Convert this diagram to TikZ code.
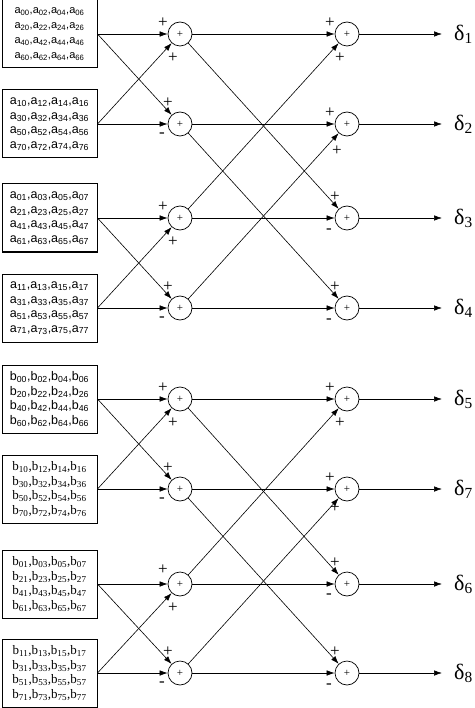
\documentclass[tikz,border=0pt]{standalone}
\usepackage{fontspec}
\setmainfont{Liberation Serif}
\newfontfamily\arialfont{Liberation Sans}
\usetikzlibrary{arrows.meta}
\newcommand{\ix}[1]{\textsubscript{#1}}
\newcommand{\elrow}[5]{#1\ix{#2},#1\ix{#3},#1\ix{#4},#1\ix{#5}}

\begin{document}
\begin{tikzpicture}[x=1pt,y=-1pt,
	inbox/.style={draw=black,line width=1pt,minimum width=95pt,minimum height=68pt,inner sep=0pt,align=center},
	sansbox/.style={inbox,font=\arialfont\fontsize{12.5}{14.5}\selectfont},
	serifbox/.style={inbox,font=\fontsize{13}{14.5}\selectfont},
	adder/.style={shape=circle,draw=black,line width=0.7pt,minimum size=24pt,inner sep=0pt,font=\fontsize{11}{11}\selectfont},
	sgn/.style={inner sep=0pt,font=\fontsize{17}{17}\selectfont},
	arr/.style={-{Latex[length=8pt,width=5.5pt]},line width=0.6pt},
	outlbl/.style={anchor=west,inner sep=0pt,font=\fontsize{22}{22}\selectfont}]

	\useasboundingbox (0,0) rectangle (474,708);

	% input blocks
	\node[sansbox,font=\arialfont\fontsize{11}{15}\selectfont] (b1) at (49.5,34) {\elrow{a}{00}{02}{04}{06}\\\elrow{a}{20}{22}{24}{26}\\\elrow{a}{40}{42}{44}{46}\\\elrow{a}{60}{62}{64}{66}};
	\node[sansbox] (b2) at (49.5,124) {\elrow{a}{10}{12}{14}{16}\\\elrow{a}{30}{32}{34}{36}\\\elrow{a}{50}{52}{54}{56}\\\elrow{a}{70}{72}{74}{76}};
	\node[sansbox] (b3) at (49.5,218) {\elrow{a}{01}{03}{05}{07}\\\elrow{a}{21}{23}{25}{27}\\\elrow{a}{41}{43}{45}{47}\\\elrow{a}{61}{63}{65}{67}};
	\node[sansbox] (b4) at (49.5,308) {\elrow{a}{11}{13}{15}{17}\\\elrow{a}{31}{33}{35}{37}\\\elrow{a}{51}{53}{55}{57}\\\elrow{a}{71}{73}{75}{77}};
	\node[sansbox] (b5) at (49.5,399) {\elrow{b}{00}{02}{04}{06}\\\elrow{b}{20}{22}{24}{26}\\\elrow{b}{40}{42}{44}{46}\\\elrow{b}{60}{62}{64}{66}};
	\node[serifbox] (b6) at (49.5,489) {\elrow{b}{10}{12}{14}{16}\\\elrow{b}{30}{32}{34}{36}\\\elrow{b}{50}{52}{54}{56}\\\elrow{b}{70}{72}{74}{76}};
	\node[serifbox] (b7) at (49.5,584) {\elrow{b}{01}{03}{05}{07}\\\elrow{b}{21}{23}{25}{27}\\\elrow{b}{41}{43}{45}{47}\\\elrow{b}{61}{63}{65}{67}};
	\node[serifbox] (b8) at (49.5,673) {\elrow{b}{11}{13}{15}{17}\\\elrow{b}{31}{33}{35}{37}\\\elrow{b}{51}{53}{55}{57}\\\elrow{b}{71}{73}{75}{77}};

	% first stage adders
	\node[adder] (c11) at (180,34) {+};
	\node[adder] (c12) at (180,124) {+};
	\node[adder] (c13) at (180,218) {+};
	\node[adder] (c14) at (180,308) {+};
	\node[adder] (c15) at (180,399) {+};
	\node[adder] (c16) at (180,489) {+};
	\node[adder] (c17) at (180,584) {+};
	\node[adder] (c18) at (180,673) {+};

	% second stage adders
	\node[adder] (c21) at (347,34) {+};
	\node[adder] (c22) at (347,124) {+};
	\node[adder] (c23) at (347,218) {+};
	\node[adder] (c24) at (347,308) {+};
	\node[adder] (c25) at (347,399) {+};
	\node[adder] (c26) at (347,489) {+};
	\node[adder] (c27) at (347,584) {+};
	\node[adder] (c28) at (347,673) {+};

	% signs
	\node[sgn] (s11a) at (163,23) {+};
	\node[sgn] (s11b) at (173,58) {+};
	\node[sgn] (s12a) at (168,103) {+};
	\node[sgn] (s12b) at (162,135) {-};
	\node[sgn] (s13a) at (163,207) {+};
	\node[sgn] (s13b) at (173,242) {+};
	\node[sgn] (s14a) at (168,287) {+};
	\node[sgn] (s14b) at (162,319) {-};
	\node[sgn] (s15a) at (163,388) {+};
	\node[sgn] (s15b) at (173,423) {+};
	\node[sgn] (s16a) at (168,468) {+};
	\node[sgn] (s16b) at (162,500) {-};
	\node[sgn] (s17a) at (163,570) {+};
	\node[sgn] (s17b) at (173,608) {+};
	\node[sgn] (s18a) at (168,652) {+};
	\node[sgn] (s18b) at (162,684) {-};

	\node[sgn] (s21a) at (330,23) {+};
	\node[sgn] (s21b) at (340,58) {+};
	\node[sgn] (s22a) at (330,113) {+};
	\node[sgn] (s22b) at (337,151) {+};
	\node[sgn] (s23a) at (335,197) {+};
	\node[sgn] (s23b) at (329,231) {-};
	\node[sgn] (s24a) at (335,287) {+};
	\node[sgn] (s24b) at (329,321) {-};
	\node[sgn] (s25a) at (330,388) {+};
	\node[sgn] (s25b) at (340,423) {+};
	\node[sgn] (s26a) at (330,478) {+};
	\node[sgn] (s26b) at (335,508) {+};
	\node[sgn] (s27a) at (335,563) {+};
	\node[sgn] (s27b) at (329,596) {-};
	\node[sgn] (s28a) at (335,652) {+};
	\node[sgn] (s28b) at (329,686) {-};

	% outputs
	\coordinate (o1) at (442,34);
	\coordinate (o2) at (442,124);
	\coordinate (o3) at (442,218);
	\coordinate (o4) at (442,308);
	\coordinate (o5) at (442,399);
	\coordinate (o6) at (442,489);
	\coordinate (o7) at (442,584);
	\coordinate (o8) at (442,673);
	\node[outlbl] (d1) at (454,34) {δ\ix{1}};
	\node[outlbl] (d2) at (454,124) {δ\ix{2}};
	\node[outlbl] (d3) at (454,218) {δ\ix{3}};
	\node[outlbl] (d4) at (454,308) {δ\ix{4}};
	\node[outlbl] (d5) at (454,399) {δ\ix{5}};
	\node[outlbl] (d6) at (454,489) {δ\ix{7}};
	\node[outlbl] (d7) at (454,584) {δ\ix{6}};
	\node[outlbl] (d8) at (454,673) {δ\ix{8}};

	% blocks to first stage
	\path (b1.east) edge[arr] (c11);
	\path (b1.east) edge[arr] (c12);
	\path (b2.east) edge[arr] (c12);
	\path (b2.east) edge[arr] (c11);
	\path (b3.east) edge[arr] (c13);
	\path (b3.east) edge[arr] (c14);
	\path (b4.east) edge[arr] (c14);
	\path (b4.east) edge[arr] (c13);
	\path (b5.east) edge[arr] (c15);
	\path (b5.east) edge[arr] (c16);
	\path (b6.east) edge[arr] (c16);
	\path (b6.east) edge[arr] (c15);
	\path (b7.east) edge[arr] (c17);
	\path (b7.east) edge[arr] (c18);
	\path (b8.east) edge[arr] (c18);
	\path (b8.east) edge[arr] (c17);

	% first stage to second stage
	\path (c11) edge[arr] (c21);
	\path (c11) edge[arr] (c23);
	\path (c12) edge[arr] (c22);
	\path (c12) edge[arr] (c24);
	\path (c13) edge[arr] (c23);
	\path (c13) edge[arr] (c21);
	\path (c14) edge[arr] (c24);
	\path (c14) edge[arr] (c22);
	\path (c15) edge[arr] (c25);
	\path (c15) edge[arr] (c27);
	\path (c16) edge[arr] (c26);
	\path (c16) edge[arr] (c28);
	\path (c17) edge[arr] (c27);
	\path (c17) edge[arr] (c25);
	\path (c18) edge[arr] (c28);
	\path (c18) edge[arr] (c26);

	% second stage to outputs
	\path (c21) edge[arr] (o1);
	\path (c22) edge[arr] (o2);
	\path (c23) edge[arr] (o3);
	\path (c24) edge[arr] (o4);
	\path (c25) edge[arr] (o5);
	\path (c26) edge[arr] (o6);
	\path (c27) edge[arr] (o7);
	\path (c28) edge[arr] (o8);
\end{tikzpicture}
\end{document}
